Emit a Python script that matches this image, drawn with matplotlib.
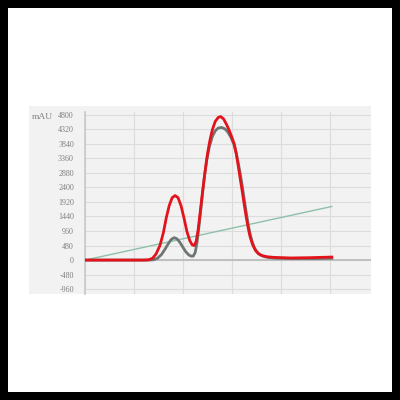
import matplotlib
matplotlib.use("Agg")
import matplotlib.pyplot as plt
from matplotlib.patches import Rectangle

# ---- data ----
red_x = [0, 1.20, 1.30, 1.38, 1.45, 1.53, 1.60, 1.66, 1.72, 1.78, 1.84, 1.90, 1.96,
         2.02, 2.08, 2.14, 2.19, 2.23, 2.27, 2.31, 2.35, 2.40, 2.45, 2.50, 2.55,
         2.60, 2.66, 2.72, 2.77, 2.83, 2.89, 2.94, 3.00, 3.05, 3.09, 3.13, 3.17,
         3.21, 3.25, 3.29, 3.33, 3.37, 3.42, 3.48, 3.55, 3.63, 3.72, 3.85, 4.20,
         4.60, 5.04]
red_y = [0, 0, 10, 60, 200, 480, 900, 1400, 1800, 2060, 2130, 2060, 1800,
         1400, 950, 640, 500, 480, 620, 1000, 1550, 2250, 2900, 3500, 3950,
         4300, 4580, 4710, 4740, 4660, 4480, 4300, 4050, 3820, 3500, 3100, 2680,
         2280, 1850, 1440, 1080, 780, 520, 320, 200, 140, 110, 90, 70,
         80, 100]

gray_x = [0, 1.30, 1.40, 1.48, 1.56, 1.63, 1.70, 1.76, 1.82, 1.88, 1.94, 2.00,
          2.06, 2.12, 2.17, 2.21, 2.25, 2.29, 2.33, 2.38, 2.43, 2.48, 2.54, 2.60,
          2.66, 2.72, 2.79, 2.86, 2.92, 2.98, 3.04, 3.09, 3.13, 3.17, 3.21, 3.25,
          3.29, 3.33, 3.37, 3.41, 3.46, 3.52, 3.59, 3.67, 3.76, 3.89, 4.30, 4.70,
          5.04]
gray_y = [0, 0, 10, 60, 180, 350, 540, 680, 740, 700, 580, 420,
          270, 170, 130, 130, 250, 600, 1150, 1900, 2650, 3250, 3750, 4080,
          4270, 4360, 4380, 4330, 4220, 4050, 3820, 3520, 3200, 2850, 2450, 2020,
          1600, 1200, 870, 620, 400, 250, 160, 110, 80, 60, 50, 50,
          60]

green_x = [0, 5.04]
green_y = [0, 1770]

y_ticks = [-960, -480, 0, 480, 960, 1440, 1920, 2400, 2880, 3360, 3840, 4320, 4800]
x_grid = [0, 1, 2, 3, 4, 5]
y_unit = "mAU"

# ---- figure ----
fig = plt.figure(figsize=(4, 4), dpi=100, facecolor="black")
fig.patches.append(Rectangle((8/400, 8/400), 384/400, 384/400, transform=fig.transFigure,
                             facecolor="white", edgecolor="none", zorder=-20))
fig.patches.append(Rectangle((29/400, 1-294/400), 342/400, 188/400, transform=fig.transFigure,
                             facecolor="#f2f2f2", edgecolor="none", zorder=-10))

ax = fig.add_axes([85/400, 1-294/400, 286/400, 182/400])
ax.set_zorder(1)
ax.set_facecolor("#f2f2f2")
ax.set_xlim(0, 5.84)
ax.set_ylim(-1120, 4890)

ax.set_yticks(y_ticks)
ax.set_yticklabels([str(v) for v in y_ticks], family="Liberation Serif",
                   fontsize=5.8, color="#808080")
ax.set_xticks(x_grid)
ax.set_xticklabels([])
ax.tick_params(length=0, pad=8)
ax.grid(True, color="#dcdcdc", linewidth=0.8)
ax.set_axisbelow(True)
for s in ["top", "right", "bottom"]:
    ax.spines[s].set_visible(False)
ax.spines["left"].set_color("#c8c8c8")
ax.spines["left"].set_linewidth(1.2)
ax.axhline(0, color="#b8b8b8", linewidth=1.2, zorder=1)

ax.plot(green_x, green_y, color="#8fc0aa", linewidth=1.0, zorder=2)
ax.plot(gray_x, gray_y, color="#6f7574", linewidth=2.0, zorder=3, solid_joinstyle="round")
ax.plot(red_x, red_y, color="#e3131b", linewidth=2.0, zorder=4, solid_joinstyle="round")

fig.text(32/400, 1-117/400, y_unit, family="Liberation Serif", fontsize=6.8,
         color="#808080", va="center", ha="left", zorder=5)

fig.savefig("out.png", dpi=100, facecolor="black")
